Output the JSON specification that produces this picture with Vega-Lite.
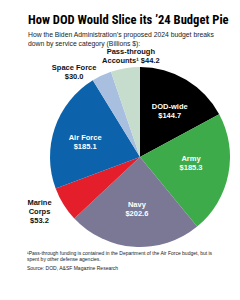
{
  "$schema": "https://vega.github.io/schema/vega-lite/v6.json",
  "background": "white",
  "padding": {"left": 27, "top": 14, "right": 0, "bottom": 0},
  "config": {"view": {"stroke": null}, "font": "Liberation Sans"},
  "title": {
    "text": "How DOD Would Slice its ’24 Budget Pie",
    "subtitle": ["How the Biden Administration’s proposed 2024 budget breaks", "down by service category (Billions $):"],
    "anchor": "start",
    "frame": "group",
    "dx": -22,
    "font": "Roboto Condensed, Liberation Sans Narrow, DejaVu Sans Condensed, Liberation Sans, sans-serif",
    "fontSize": 12.6,
    "fontWeight": "bold",
    "color": "#000000",
    "subtitleFont": "Liberation Sans",
    "subtitleFontSize": 6.8,
    "subtitleColor": "#222222",
    "subtitleLineHeight": 9,
    "subtitlePadding": 5,
    "offset": 1
  },
  "vconcat": [
    {
      "width": 180,
      "height": 180,
      "title": {
        "text": ["¹Pass-through funding is contained in the Department of the Air Force budget, but is", "spent by other defense agencies."],
        "subtitle": "Source: DOD, A&SF Magazine Research",
        "orient": "bottom",
        "anchor": "start",
        "frame": "group",
        "dx": -23,
        "font": "Liberation Sans",
        "fontSize": 5,
        "fontWeight": "normal",
        "lineHeight": 6,
        "color": "#222222",
        "subtitleFont": "Liberation Sans",
        "subtitleFontSize": 5,
        "subtitleColor": "#222222",
        "subtitlePadding": 4,
        "offset": 4
      },
      "data": {
        "values": [
          {"rank": 1, "service": "DOD-wide", "value": 144.7, "label": "DOD-wide\n$144.7"},
          {"rank": 2, "service": "Army", "value": 185.3, "label": "Army\n$185.3"},
          {"rank": 3, "service": "Navy", "value": 202.6, "label": "Navy\n$202.6"},
          {"rank": 4, "service": "Marine Corps", "value": 53.2, "label": "Marine\nCorps\n$53.2"},
          {"rank": 5, "service": "Air Force", "value": 185.1, "label": "Air Force\n$185.1"},
          {"rank": 6, "service": "Space Force", "value": 30.0, "label": "Space Force\n$30.0"},
          {"rank": 7, "service": "Pass-through Accounts", "value": 44.2, "label": "Pass-through\nAccounts¹ $44.2"}
        ]
      },
      "encoding": {
        "theta": {"field": "value", "type": "quantitative", "stack": true},
        "order": {"field": "rank", "type": "quantitative", "sort": "ascending"}
      },
      "layer": [
        {
          "mark": {"type": "arc"},
          "encoding": {
            "color": {
              "field": "service",
              "type": "nominal",
              "legend": null,
              "scale": {
                "domain": ["DOD-wide", "Army", "Navy", "Marine Corps", "Air Force", "Space Force", "Pass-through Accounts"],
                "range": ["#000000", "#3dab4a", "#7a7895", "#e41f2b", "#0d63ab", "#a8bfe0", "#c6dccc"]
              }
            }
          }
        },
        {
          "mark": {"type": "text", "radius": {"expr": "datum.service === 'DOD-wide' || datum.service === 'Air Force' ? 58 : 0"}, "fontSize": 7.5, "fontWeight": "bold", "color": "white", "lineBreak": "\n", "lineHeight": 9, "align": "center", "baseline": "middle"},
          "encoding": {
            "text": {"condition": {"test": "datum.service === 'DOD-wide' || datum.service === 'Air Force'", "field": "label"}, "value": ""}
          }
        },
        {
          "mark": {"type": "text", "radius": {"expr": "datum.service === 'Army' ? 52 : 0"}, "dy": -8, "fontSize": 7.5, "fontWeight": "bold", "color": "white", "lineBreak": "\n", "lineHeight": 9, "align": "center", "baseline": "middle"},
          "encoding": {
            "text": {"condition": {"test": "datum.service === 'Army'", "field": "label"}, "value": ""}
          }
        },
        {
          "mark": {"type": "text", "radius": {"expr": "datum.service === 'Navy' ? 48 : 0"}, "fontSize": 7.5, "fontWeight": "bold", "color": "white", "lineBreak": "\n", "lineHeight": 9, "align": "center", "baseline": "middle"},
          "encoding": {
            "text": {"condition": {"test": "datum.service === 'Navy'", "field": "label"}, "value": ""}
          }
        },
        {
          "mark": {"type": "text", "radius": {"expr": "datum.service === 'Marine Corps' ? 110 : 0"}, "dx": -7, "dy": -12, "fontSize": 7.5, "fontWeight": "bold", "color": "#111111", "lineBreak": "\n", "lineHeight": 9, "align": "center", "baseline": "middle"},
          "encoding": {
            "text": {"condition": {"test": "datum.service === 'Marine Corps'", "field": "label"}, "value": ""}
          }
        },
        {
          "mark": {"type": "text", "radius": {"expr": "datum.service === 'Space Force' ? 110 : 0"}, "dx": -19, "dy": 11, "fontSize": 7.5, "fontWeight": "bold", "color": "#111111", "lineBreak": "\n", "lineHeight": 9, "align": "center", "baseline": "middle"},
          "encoding": {
            "text": {"condition": {"test": "datum.service === 'Space Force'", "field": "label"}, "value": ""}
          }
        },
        {
          "mark": {"type": "text", "radius": {"expr": "datum.service === 'Pass-through Accounts' ? 105 : 0"}, "dx": 8, "dy": -1, "fontSize": 7.5, "fontWeight": "bold", "color": "#111111", "lineBreak": "\n", "lineHeight": 9, "align": "center", "baseline": "middle"},
          "encoding": {
            "text": {"condition": {"test": "datum.service === 'Pass-through Accounts'", "field": "label"}, "value": ""}
          }
        }
      ]
    }
  ]
}
